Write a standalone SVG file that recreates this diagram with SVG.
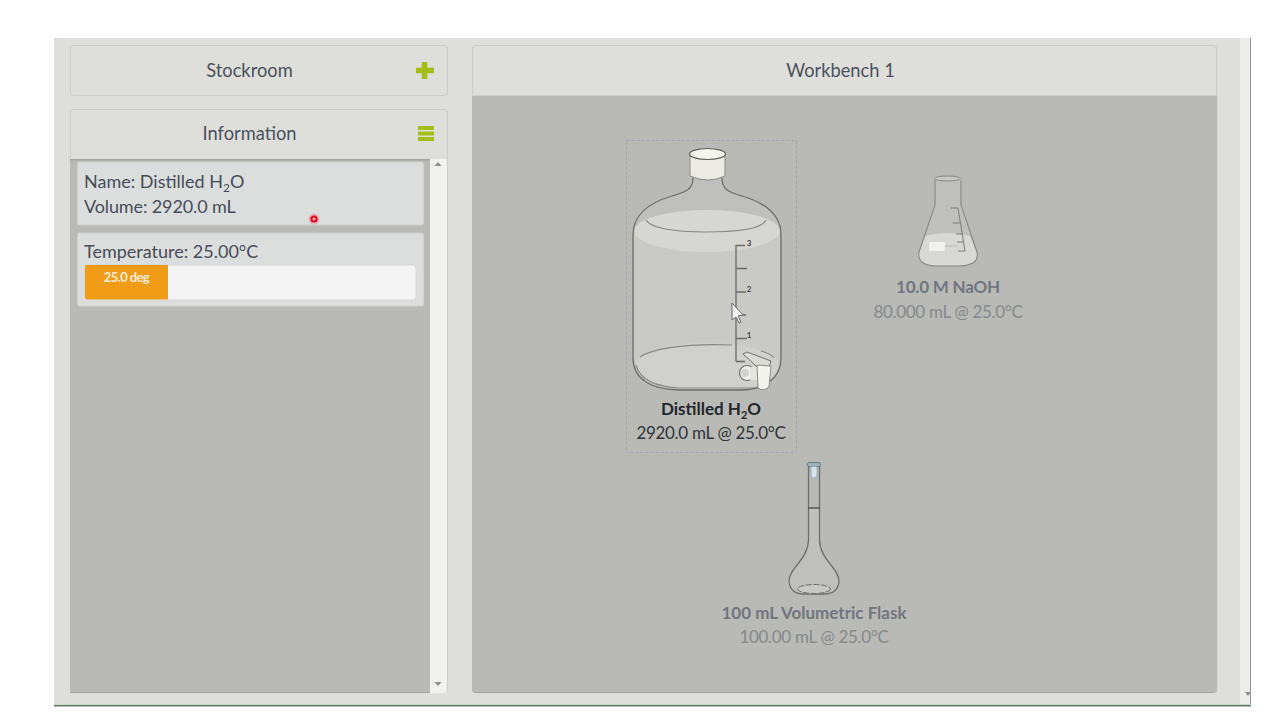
<svg xmlns="http://www.w3.org/2000/svg" width="1280" height="720" viewBox="0 0 1280 720">
<style>
text{font-family:Lato,"Noto Sans","Liberation Sans",sans-serif;fill:#4a4f5a}
.h{font-size:18.300px;text-anchor:middle;fill:#4b505b}
.i{font-size:18px;fill:#474c58}
.head{fill:#dedfdb;stroke:#cbccc7;stroke-width:1}
.well{fill:#b9bab5}
.card{fill:#dcdedd;stroke:#cfd1cf;stroke-width:1}
.ic{fill:#a4bd18}
.lab{font-size:17px;text-anchor:middle;letter-spacing:-.3px}
.dim{fill:#71757f}
.dim2{fill:#85888e}
.ln{fill:none;stroke:#6c6e69;stroke-width:1.300}
.ln2{fill:none;stroke:#868883;stroke-width:1.100}
.scroll{fill:#8d8e8b}
</style>
<rect width="1280" height="720" fill="#fff"/>
<g id="page">
<rect x="54" y="38" width="1186" height="667" fill="#dedfdb"/>
<rect x="1240" y="38" width="10" height="667" fill="#edeeea"/>
<rect x="1250" y="38" width="1" height="668" fill="#8f9a92"/>
<rect x="54" y="704" width="1197" height="1" fill="#c9dcc5"/>
<rect x="54" y="705" width="1197" height="1.500" fill="#66786c"/>
<path class="scroll" d="M1245 692h6l-3 4z"/>
</g>
<g id="stockroom">
<rect class="head" x="70.500" y="45.500" width="377" height="50" rx="3"/>
<text class="h" x="249.500" y="76.500">Stockroom</text>
<path class="ic" d="M421.700 62h5.600v5.700h6.700v5.600h-6.700V79h-5.600v-5.700H416v-5.600h5.700z"/>
</g>
<g id="information">
<rect class="head" x="70.500" y="109.500" width="377" height="583" rx="3"/>
<text class="h" x="249.500" y="140">Information</text>
<path class="ic" d="M418 126h16v4h-16zM418 131.500h16v4h-16zM418 137h16v4h-16z"/>
<path class="well" d="M70 159H430V693H73q-3 0-3-3z"/>
<rect x="70" y="159" width="360" height="1.500" fill="#a5a6a1"/>
<rect x="70" y="692" width="360" height="1" fill="#a5a6a1"/>
<path d="M430 159h17V690q0 3-3 3H430z" fill="#f1f2ef"/>
<path class="scroll" d="M438 162l3.500 4h-7zM438 686l-3.500-4h7z"/>
<g id="info-name">
<rect class="card" x="77.500" y="162" width="346" height="63" rx="2"/>
<text class="i" x="84" y="188">Name: Distilled H<tspan font-size="12" dy="4">2</tspan><tspan dy="-4">O</tspan></text>
<text class="i" x="84" y="213" letter-spacing="-.12">Volume: 2920.0 mL</text>
</g>
<g id="info-temperature">
<rect class="card" x="77.500" y="233" width="346" height="73" rx="2"/>
<text class="i" x="84" y="258">Temperature: 25.00°C</text>
<rect x="85" y="265" width="331" height="35" rx="3" fill="#f3f4f3" stroke="#d5d7d5"/>
<path d="M85 265h83v34.500H88q-3 0-3-3z" fill="#f09c16"/>
<text x="126.500" y="282" font-size="13" font-weight="700" letter-spacing="-.6" text-anchor="middle" style="fill:#f8ecd6">25.0 deg</text>
</g>
</g>
<g id="workbench">
<rect class="head" x="472.500" y="45.500" width="744" height="647" rx="3"/>
<text class="h" x="840.500" y="76.500">Workbench 1</text>
<path class="well" d="M472 96H1217V690q0 3-3 3H475q-3 0-3-3z"/>
<rect x="472" y="95" width="745" height="1" fill="#cfd0cb"/>
<rect x="475" y="692" width="739" height="1" fill="#a5a6a1"/>
</g>
<g id="bottle">
<rect x="626.500" y="140.500" width="170" height="312" fill="none" stroke="#a2a5b3" stroke-width="1" stroke-dasharray="3 2"/>
<path d="M693 178C693 190 685 192 672 196C648 203 633 215 633 235V358C633 378 650 390 680 390H740C765 390 781 378 781 358V235C781 215 766 203 742 196C729 192 722 190 722 178Z" fill="#bfc0bb"/>
<path d="M634 233C634 219 670 210 707 210C745 210 780 219 780 233V358C780 378 765 389 740 389H680C650 389 634 378 634 358Z" fill="#c9cac5"/>
<path d="M636 362C650 345 690 343 707 343C740 343 770 350 779 362C777 378 762 388 740 388H680C650 388 638 378 636 362Z" fill="#d0d1cc"/>
<ellipse cx="707" cy="231" rx="73" ry="21" fill="#d6d7d2"/>
<path d="M646 220C652 230 685 232 706 232C730 232 762 230 766 220" class="ln2"/>
<path d="M640 357C650 350 680 343 732 345" class="ln2"/>
<path d="M761 351C768 353 772 355 774 358" class="ln2"/>
<path d="M636 365C640 380 655 387 680 388H760" class="ln2"/>
<path d="M693 178C693 190 685 192 672 196C648 203 633 215 633 235V358C633 378 650 390 680 390H740C765 390 781 378 781 358V235C781 215 766 203 742 196C729 192 722 190 722 178" class="ln"/>
<path d="M690 154V176Q708 184 725 176V154Z" fill="#ecece4" stroke="#8a8b86" stroke-width="1"/>
<ellipse cx="707.500" cy="154" rx="18" ry="5.500" fill="#f5f5ee" stroke="#5e605b" stroke-width="1.200"/>
<path d="M736 361.500V245.500H745M736 268.500H747M736 292H746M736 315H746M736 338.500H747M736 361.500H745" fill="none" stroke="#6a6c67" stroke-width="1.300"/>
<text x="749" y="246" font-size="8" font-weight="700" text-anchor="middle" style="fill:#3f413f">3</text>
<text x="749" y="292" font-size="8" font-weight="700" text-anchor="middle" style="fill:#3f413f">2</text>
<text x="749" y="338" font-size="8" font-weight="700" text-anchor="middle" style="fill:#3f413f">1</text>
<circle cx="747" cy="373" r="7.500" fill="#f0f0ea" stroke="#6f716c" stroke-width="1.200"/>
<circle cx="745" cy="373" r="4" fill="#d2d3ce"/>
<path d="M750 367H758V380H750Z" fill="#e6e6e0"/>
<path d="M743 354L747 352L771 361L769 367L756 366Z" fill="#dcdcd6" stroke="#6f716c" stroke-width="1"/>
<path d="M757 365L771 366L769 387Q763 392 758 388Z" fill="#f4f4ee" stroke="#8a8b86" stroke-width="1"/>
<path d="M732 303L743 315L738 316L741 322L739 323L736 317L732 320Z" fill="#f4f4f4" stroke="#666" stroke-width="1"/>
<text class="lab" x="711" y="415" font-weight="700" style="fill:#23262c;letter-spacing:0">Distilled H<tspan font-size="11" dy="4">2</tspan><tspan dy="-4">O</tspan></text>
<text class="lab" x="711" y="439" style="fill:#30343c">2920.0 mL @ 25.0°C</text>
</g>
<g id="naoh-flask">
<path d="M935 180V205L919 252Q917 265 935 266H960Q980 265 977 252L961 205V180Z" fill="#bfc0bb"/>
<path d="M925 236Q947 230 970 236L977 254Q979 265 960 266H935Q917 265 919 254Z" fill="#d8d9d4"/>
<rect x="929" y="242" width="16" height="9" rx="1" fill="#f2f2ec"/>
<path d="M945 246H958" stroke="#c9cac5" stroke-width="2"/>
<path d="M935 180V205L919 252Q917 265 935 266H960Q980 265 977 252L961 205V180" class="ln2"/>
<ellipse cx="947.500" cy="178.500" rx="13" ry="2.500" fill="#c7c8c3" stroke="#868883"/>
<path d="M951 208H958L965 251H958M953 223H960.500M956 234H962.500M957 242H964" fill="none" stroke="#7b7d78"/>
<text class="lab dim" x="948" y="293" font-weight="700" style="letter-spacing:-.2px">10.0 M NaOH</text>
<text class="lab dim2" x="948" y="318">80.000 mL @ 25.0°C</text>
</g>
<g id="volumetric-flask">
<path d="M808.500 507V540C808 560 789 568 789 581Q790 594 804 594H824Q838 594 839 581C839 568 820 560 819.500 540V507Z" fill="#bfc0bb"/>
<path d="M808.500 466V540C808 560 789 568 789 581Q790 594 804 594H824Q838 594 839 581C839 568 820 560 819.500 540V466" class="ln"/>
<path d="M808 508H820" stroke="#555" stroke-width="1.500"/>
<ellipse cx="814" cy="589" rx="16.500" ry="4.500" fill="#c7c8c3" stroke="#6c6e69" stroke-dasharray="6 1.500"/>
<rect x="807.500" y="462.500" width="13" height="4" rx="1.500" fill="#9cb3bd" stroke="#5e6e75" stroke-width=".8"/>
<path d="M811 466.500H817V476Q814 480 811 476Z" fill="#d3e4ef" stroke="#8ba4b5" stroke-width=".8"/>
<text class="lab dim" x="814" y="618.500" font-weight="700" style="letter-spacing:0">100 mL Volumetric Flask</text>
<text class="lab dim2" x="814" y="643">100.00 mL @ 25.0°C</text>
</g>
<g id="pointer">
<circle cx="314" cy="219" r="5.500" fill="#e05060" opacity=".3"/>
<circle cx="314" cy="219" r="2.600" fill="#f0a0a0" stroke="#e0001e" stroke-width="1.900"/>
</g>
</svg>
